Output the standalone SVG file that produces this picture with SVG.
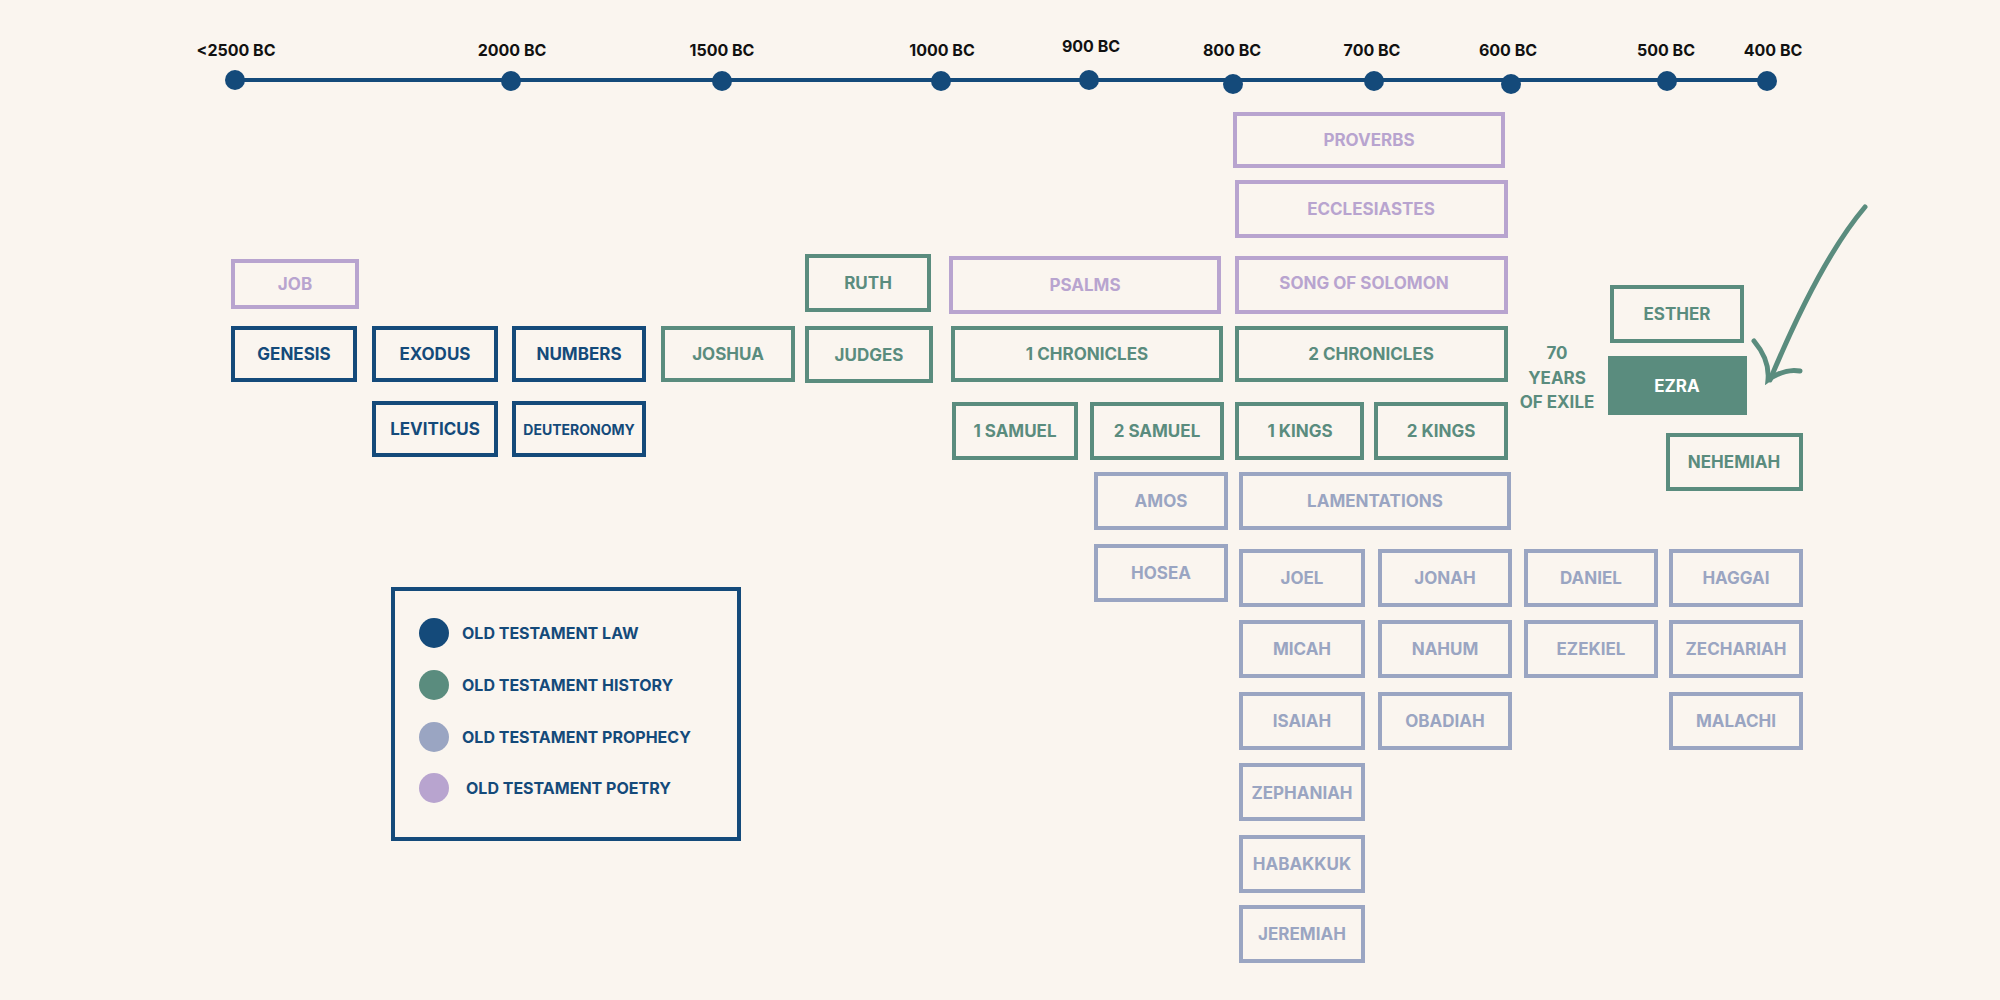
<svg xmlns="http://www.w3.org/2000/svg" width="2000" height="1000" viewBox="0 0 2000 1000">
<style>
text{font-family:Inter,"Open Sans","Liberation Sans",sans-serif;font-weight:700;text-anchor:middle;dominant-baseline:central}
.b rect{fill:none;stroke-width:4}
.law rect{stroke:#144a7a}.law text{fill:#144a7a;font-size:17px}
.his rect{stroke:#5a8c7e}.his text{fill:#5a8c7e;font-size:17px}
.pro rect{stroke:#9aa5c2}.pro text{fill:#9aa5c2;font-size:17px}
.poe rect{stroke:#b8a4cf}.poe text{fill:#b8a4cf;font-size:17px}
.tl text{fill:#111;font-size:16px}
.leg text{fill:#144a7a;font-size:16px;text-anchor:start}
</style>
<rect width="2000" height="1000" fill="#faf5ef"/>
<g id="timeline" class="tl">
<line x1="235" y1="80" x2="1767" y2="80" stroke="#144a7a" stroke-width="4"/>
<g fill="#144a7a">
<circle cx="235" cy="80" r="10"/><circle cx="511" cy="81" r="10"/><circle cx="722" cy="81" r="10"/><circle cx="941" cy="81" r="10"/><circle cx="1089" cy="80" r="10"/><circle cx="1233" cy="84" r="10"/><circle cx="1374" cy="81" r="10"/><circle cx="1511" cy="84" r="10"/><circle cx="1667" cy="81" r="10"/><circle cx="1767" cy="81" r="10"/>
</g>
<text x="236" y="50">&lt;2500 BC</text><text x="512" y="50">2000 BC</text><text x="722" y="50">1500 BC</text><text x="942" y="50">1000 BC</text><text x="1091" y="46">900 BC</text><text x="1232" y="50">800 BC</text><text x="1372" y="50">700 BC</text><text x="1508" y="50">600 BC</text><text x="1666" y="50">500 BC</text><text x="1773" y="50">400 BC</text>
</g>
<g id="law" class="b law">
<g id="genesis"><rect x="233" y="328" width="122" height="52"/><text x="294" y="354">GENESIS</text></g>
<g id="exodus"><rect x="374" y="328" width="122" height="52"/><text x="435" y="354">EXODUS</text></g>
<g id="numbers"><rect x="514" y="328" width="130" height="52"/><text x="579" y="354">NUMBERS</text></g>
<g id="leviticus"><rect x="374" y="403" width="122" height="52"/><text x="435" y="429">LEVITICUS</text></g>
<g id="deuteronomy"><rect x="514" y="403" width="130" height="52"/><text x="579" y="429" style="font-size:14px">DEUTERONOMY</text></g>
</g>
<g id="history" class="b his">
<g id="joshua"><rect x="663" y="328" width="130" height="52"/><text x="728" y="354">JOSHUA</text></g>
<g id="ruth"><rect x="807" y="256" width="122" height="54"/><text x="868" y="283">RUTH</text></g>
<g id="judges"><rect x="807" y="328" width="124" height="53"/><text x="869" y="355">JUDGES</text></g>
<g id="chron1"><rect x="953" y="328" width="268" height="52"/><text x="1087" y="354">1 CHRONICLES</text></g>
<g id="sam1"><rect x="954" y="404" width="122" height="54"/><text x="1015" y="431">1 SAMUEL</text></g>
<g id="sam2"><rect x="1092" y="404" width="130" height="54"/><text x="1157" y="431">2 SAMUEL</text></g>
<g id="chron2"><rect x="1237" y="328" width="269" height="52"/><text x="1371" y="354">2 CHRONICLES</text></g>
<g id="kings1"><rect x="1237" y="404" width="125" height="54"/><text x="1300" y="431">1 KINGS</text></g>
<g id="kings2"><rect x="1376" y="404" width="130" height="54"/><text x="1441" y="431">2 KINGS</text></g>
<g id="esther"><rect x="1612" y="287" width="130" height="54"/><text x="1677" y="314">ESTHER</text></g>
<g id="ezra"><rect x="1610" y="358" width="135" height="55" style="fill:#5a8c7e;stroke:#5a8c7e"/><text x="1677" y="386" style="fill:#fff">EZRA</text></g>
<g id="nehemiah"><rect x="1668" y="435" width="133" height="54"/><text x="1734" y="462">NEHEMIAH</text></g>
<g id="exile"><text x="1557" y="353">70</text><text x="1557" y="378">YEARS</text><text x="1557" y="402">OF EXILE</text></g>
</g>
<g id="poetry" class="b poe">
<g id="job"><rect x="233" y="261" width="124" height="46"/><text x="295" y="284">JOB</text></g>
<g id="psalms"><rect x="951" y="258" width="268" height="54"/><text x="1085" y="285">PSALMS</text></g>
<g id="proverbs"><rect x="1235" y="114" width="268" height="52"/><text x="1369" y="140">PROVERBS</text></g>
<g id="eccl"><rect x="1237" y="182" width="269" height="54"/><text x="1371" y="209">ECCLESIASTES</text></g>
<g id="song"><rect x="1237" y="258" width="269" height="54"/><text x="1364" y="283">SONG OF SOLOMON</text></g>
</g>
<g id="prophecy" class="b pro">
<g id="amos"><rect x="1096" y="474" width="130" height="54"/><text x="1161" y="501">AMOS</text></g>
<g id="hosea"><rect x="1096" y="546" width="130" height="54"/><text x="1161" y="573">HOSEA</text></g>
<g id="lam"><rect x="1241" y="474" width="268" height="54"/><text x="1375" y="501">LAMENTATIONS</text></g>
<g id="joel"><rect x="1241" y="551" width="122" height="54"/><text x="1302" y="578">JOEL</text></g>
<g id="jonah"><rect x="1380" y="551" width="130" height="54"/><text x="1445" y="578">JONAH</text></g>
<g id="daniel"><rect x="1526" y="551" width="130" height="54"/><text x="1591" y="578">DANIEL</text></g>
<g id="haggai"><rect x="1671" y="551" width="130" height="54"/><text x="1736" y="578">HAGGAI</text></g>
<g id="micah"><rect x="1241" y="622" width="122" height="54"/><text x="1302" y="649">MICAH</text></g>
<g id="nahum"><rect x="1380" y="622" width="130" height="54"/><text x="1445" y="649">NAHUM</text></g>
<g id="ezekiel"><rect x="1526" y="622" width="130" height="54"/><text x="1591" y="649">EZEKIEL</text></g>
<g id="zech"><rect x="1671" y="622" width="130" height="54"/><text x="1736" y="649">ZECHARIAH</text></g>
<g id="isaiah"><rect x="1241" y="694" width="122" height="54"/><text x="1302" y="721">ISAIAH</text></g>
<g id="obadiah"><rect x="1380" y="694" width="130" height="54"/><text x="1445" y="721">OBADIAH</text></g>
<g id="malachi"><rect x="1671" y="694" width="130" height="54"/><text x="1736" y="721">MALACHI</text></g>
<g id="zeph"><rect x="1241" y="765" width="122" height="54"/><text x="1302" y="793">ZEPHANIAH</text></g>
<g id="hab"><rect x="1241" y="837" width="122" height="54"/><text x="1302" y="864">HABAKKUK</text></g>
<g id="jer"><rect x="1241" y="907" width="122" height="54"/><text x="1302" y="934">JEREMIAH</text></g>
</g>
<g id="legend" class="leg">
<rect x="393" y="589" width="346" height="250" fill="none" stroke="#144a7a" stroke-width="4"/>
<circle cx="434" cy="633" r="15" fill="#144a7a"/><text x="462" y="633">OLD TESTAMENT LAW</text>
<circle cx="434" cy="685" r="15" fill="#5a8c7e"/><text x="462" y="685">OLD TESTAMENT HISTORY</text>
<circle cx="434" cy="737" r="15" fill="#9aa5c2"/><text x="462" y="737">OLD TESTAMENT PROPHECY</text>
<circle cx="434" cy="788" r="15" fill="#b8a4cf"/><text x="466" y="788">OLD TESTAMENT POETRY</text>
</g>
<g id="connectors" fill="none" stroke="#5a8c7e" stroke-width="5" stroke-linecap="round">
<path d="M1865 207 Q1820 260 1770 380"/>
<path d="M1754 341 Q1770 360 1768 380 Q1785 368 1800 371"/>
</g>
</svg>
